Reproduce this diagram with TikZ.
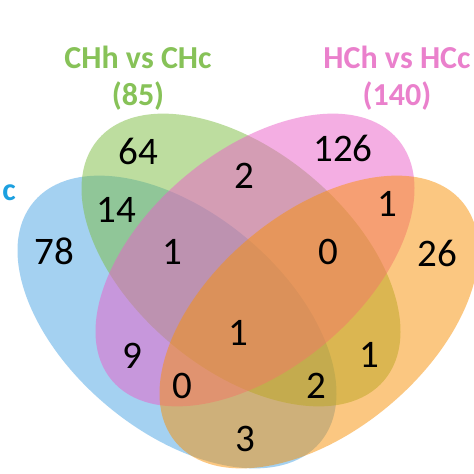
\documentclass[tikz,border=0pt]{standalone}
\usepackage{fontspec}
\setmainfont{Carlito}
\definecolor{vblue}{RGB}{75,165,229}
\definecolor{vgreen}{RGB}{125,189,65}
\definecolor{vpink}{RGB}{235,95,201}
\definecolor{vorange}{RGB}{249,145,5}
\definecolor{tgreen}{RGB}{135,194,88}
\definecolor{tpink}{RGB}{234,128,204}
\definecolor{tblue}{RGB}{28,160,224}
\begin{document}
\begin{tikzpicture}[x=1pt,y=-1pt,
  num/.style={font=\fontsize{39}{39}\selectfont, text=black, inner sep=0pt},
  ttl/.style={font=\fontsize{32}{32}\selectfont\bfseries, inner sep=0pt, anchor=base},
  setfill/.style={fill=#1, fill opacity=0.5}]
\useasboundingbox (0,0) rectangle (474,474);
\clip (0,0) rectangle (474,474);
\fill[white] (0,0) rectangle (474,474);
% ellipses
\fill[setfill=vblue, shift={(177,322)}, rotate=-40] (0,0) ellipse [x radius=187pt, y radius=109pt];
\fill[setfill=vgreen, shift={(241,260)}, rotate=-40] (0,0) ellipse [x radius=187pt, y radius=109pt];
\fill[setfill=vpink, shift={(255,260)}, rotate=40] (0,0) ellipse [x radius=187pt, y radius=109pt];
\fill[setfill=vorange, shift={(319,322)}, rotate=40] (0,0) ellipse [x radius=187pt, y radius=109pt];
% titles
\node[ttl, text=tgreen] (tg1) at (138,68) {CHh vs CHc};
\node[ttl, text=tgreen] (tg2) at (138,105) {(85)};
\node[ttl, text=tpink] (tp1) at (397,68) {HCh vs HCc};
\node[ttl, text=tpink] (tp2) at (397,105) {(140)};
\node[ttl, text=tblue, anchor=base east] (tb1) at (16,200) {c};
% counts
\node[num] (n78) at (54,251) {78};
\node[num] (n64) at (138,151) {64};
\node[num] (n126) at (343,148) {126};
\node[num] (n26) at (437,253) {26};
\node[num] (n14) at (116,210) {14};
\node[num] (n2a) at (244,176) {2};
\node[num] (n1a) at (387,204) {1};
\node[num] (n1b) at (172,252) {1};
\node[num] (n0a) at (328,252) {0};
\node[num] (n1c) at (238,333) {1};
\node[num] (n9) at (132,356) {9};
\node[num] (n1d) at (369,355) {1};
\node[num] (n0b) at (182,386) {0};
\node[num] (n2b) at (316,386) {2};
\node[num] (n3) at (245,439) {3};
\end{tikzpicture}
\end{document}
